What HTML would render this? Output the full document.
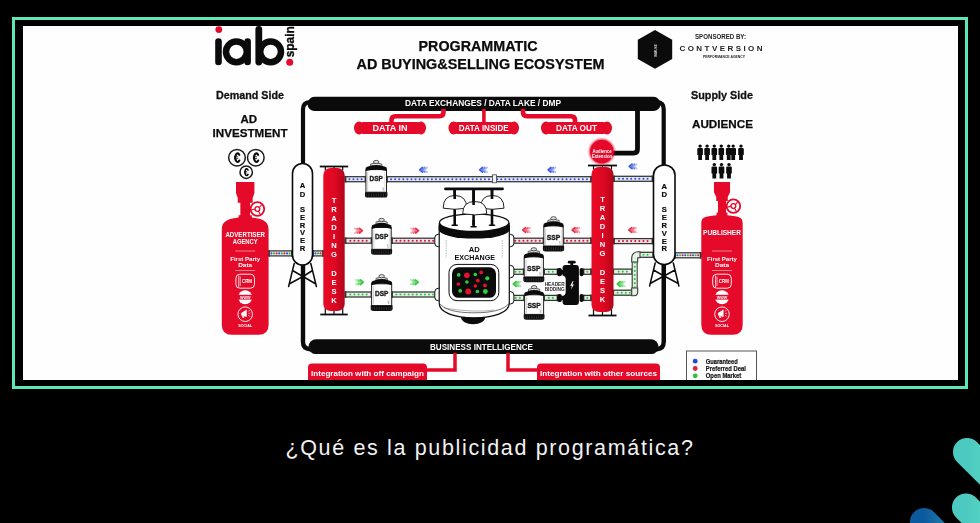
<!DOCTYPE html>
<html><head><meta charset="utf-8">
<style>
html,body{margin:0;padding:0;background:#000;width:980px;height:523px;overflow:hidden;}
body{position:relative;font-family:"Liberation Sans",sans-serif;}
#frame{position:absolute;left:12px;top:17px;width:950px;height:366px;border:3px solid #5de6b6;}
#white{position:absolute;left:23px;top:26px;width:935px;height:354px;background:#fefefe;}
svg#d{position:absolute;left:0;top:0;filter:blur(0.35px);}
#cap{position:absolute;left:0;width:980px;top:435.5px;text-align:center;color:#f2f2f2;font-size:21.5px;line-height:24px;letter-spacing:1.65px;}
svg#logo{position:absolute;left:0;top:0;}
</style></head>
<body>
<div id="frame"></div>
<div id="white"></div>
<svg id="d" width="980" height="523" viewBox="0 0 980 523" font-family="Liberation Sans" font-weight="bold">
<defs><clipPath id="wc"><rect x="23" y="26" width="935" height="354"/></clipPath></defs>
<g clip-path="url(#wc)">
<circle cx="218.8" cy="29.6" r="3.4" fill="#e5092a"/>
<line x1="218.5" y1="41.5" x2="218.5" y2="62" stroke="#0b0b0b" stroke-width="6.6" stroke-linecap="round"/>
<circle cx="236.4" cy="51.8" r="10.4" fill="none" stroke="#0b0b0b" stroke-width="6.5"/>
<line x1="247.6" y1="41.5" x2="247.6" y2="62" stroke="#0b0b0b" stroke-width="6.6" stroke-linecap="round"/>
<line x1="258.8" y1="29.5" x2="258.8" y2="62" stroke="#0b0b0b" stroke-width="6.8" stroke-linecap="round"/>
<circle cx="270.6" cy="51.8" r="10.4" fill="none" stroke="#0b0b0b" stroke-width="6.5"/>
<text transform="translate(294,57.3) rotate(-90)" font-size="13" fill="#0b0b0b" stroke="#0b0b0b" stroke-width="0.35" font-weight="bold" textLength="31" lengthAdjust="spacingAndGlyphs">spain</text>
<circle cx="289.7" cy="62.3" r="3.5" fill="#e5092a"/>
<text x="478" y="51" font-size="14.5" text-anchor="middle" fill="#0b0b0b" stroke="#0b0b0b" stroke-width="0.25" textLength="119" lengthAdjust="spacingAndGlyphs">PROGRAMMATIC</text>
<text x="480.5" y="68.7" font-size="14.5" text-anchor="middle" fill="#0b0b0b" stroke="#0b0b0b" stroke-width="0.25" textLength="248" lengthAdjust="spacingAndGlyphs">AD BUYING&amp;SELLING ECOSYSTEM</text>
<path d="M655,30 L672.2,39.7 L672.2,59.1 L655,68.8 L637.8,59.1 L637.8,39.7Z" fill="#0b0b0b"/>
<text transform="translate(657,57) rotate(-90)" font-size="4" fill="#ccc" textLength="13" lengthAdjust="spacingAndGlyphs">IMMUNE</text>
<text x="720.5" y="39" font-size="7" text-anchor="middle" fill="#222" textLength="51" lengthAdjust="spacingAndGlyphs">SPONSORED BY:</text>
<text x="721" y="51.3" font-size="8" text-anchor="middle" fill="#222" textLength="83" lengthAdjust="spacing">CONTVERSION</text>
<text x="724" y="58.3" font-size="3" text-anchor="middle" fill="#222" textLength="42" lengthAdjust="spacingAndGlyphs">PERFORMANCE AGENCY</text>
<text x="250" y="99" font-size="11" text-anchor="middle" fill="#111" stroke="#111" stroke-width="0.3" textLength="68" lengthAdjust="spacingAndGlyphs">Demand Side</text>
<text x="248.8" y="122.8" font-size="11.5" text-anchor="middle" fill="#0b0b0b" stroke="#0b0b0b" stroke-width="0.25">AD</text>
<text x="250" y="137.2" font-size="11.5" text-anchor="middle" fill="#0b0b0b" stroke="#0b0b0b" stroke-width="0.25" textLength="75" lengthAdjust="spacingAndGlyphs">INVESTMENT</text>
<text x="722" y="98.5" font-size="11" text-anchor="middle" fill="#111" stroke="#111" stroke-width="0.3" textLength="62" lengthAdjust="spacingAndGlyphs">Supply Side</text>
<text x="722.5" y="128.3" font-size="11.5" text-anchor="middle" fill="#0b0b0b" stroke="#0b0b0b" stroke-width="0.25" textLength="61" lengthAdjust="spacingAndGlyphs">AUDIENCE</text>
<defs><linearGradient id="dg" x1="0" y1="0" x2="1" y2="0"><stop offset="0" stop-color="#e80a25"/><stop offset="0.55" stop-color="#de0822"/><stop offset="1" stop-color="#b0061a"/></linearGradient></defs>
<rect x="307.5" y="96.8" width="353" height="14.2" rx="7.1" fill="#0b0b0b"/>
<path d="M303,166 L303,109 Q303,102.5 310,102 L313,102" fill="none" stroke="#0b0b0b" stroke-width="4.2"/>
<path d="M663.7,166 L663.7,109 Q663.7,102.5 657,102 L654,102" fill="none" stroke="#0b0b0b" stroke-width="4.2"/>
<path d="M637.5,110 L637.5,149 Q637.5,153.1 633.5,153.1 L612,153.1" fill="none" stroke="#0b0b0b" stroke-width="4.8"/>
<rect x="308.5" y="339.2" width="350" height="14.9" rx="7.45" fill="#0b0b0b"/>
<path d="M303,260 L303,342 Q303,348.8 310,349.2 L313,349.2" fill="none" stroke="#0b0b0b" stroke-width="4.4"/>
<path d="M663.7,260 L663.7,342 Q663.7,348.8 657,349.2 L654,349.2" fill="none" stroke="#0b0b0b" stroke-width="4.4"/>
<text x="483" y="105.7" font-size="8.6" text-anchor="middle" fill="#fff" textLength="156" lengthAdjust="spacingAndGlyphs">DATA EXCHANGES / DATA LAKE / DMP</text>
<text x="481.5" y="350" font-size="8.6" text-anchor="middle" fill="#fff" textLength="103" lengthAdjust="spacingAndGlyphs">BUSINESS INTELLIGENCE</text>
<path d="M391.5,124 L391.5,120 Q391.5,116.2 395.5,116.2 L439.5,116.2 Q443.5,116.2 443.5,112 L443.5,109" fill="none" stroke="#e5092a" stroke-width="4.6"/>
<path d="M483.9,124 L483.9,109" fill="none" stroke="#e5092a" stroke-width="3.6"/>
<path d="M523,109 L523,112 Q523,116.2 527,116.2 L571,116.2 Q575,116.2 575,120 L575,124" fill="none" stroke="#e5092a" stroke-width="4.6"/>
<rect x="357" y="122" width="66" height="12" rx="6.0" fill="#e5092a"/>
<ellipse cx="359" cy="128.0" rx="5" ry="6.5" fill="#e5092a"/>
<ellipse cx="421" cy="128.0" rx="5" ry="6.5" fill="#e5092a"/>
<text x="390.0" y="131.0" font-size="8.4" text-anchor="middle" fill="#fff" textLength="35" lengthAdjust="spacingAndGlyphs">DATA IN</text>
<rect x="451.5" y="122" width="64.5" height="12" rx="6.0" fill="#e5092a"/>
<ellipse cx="453.5" cy="128.0" rx="5" ry="6.5" fill="#e5092a"/>
<ellipse cx="514" cy="128.0" rx="5" ry="6.5" fill="#e5092a"/>
<text x="483.75" y="131.0" font-size="8.4" text-anchor="middle" fill="#fff" textLength="50" lengthAdjust="spacingAndGlyphs">DATA INSIDE</text>
<rect x="544" y="122" width="65" height="12" rx="6.0" fill="#e5092a"/>
<ellipse cx="546" cy="128.0" rx="5" ry="6.5" fill="#e5092a"/>
<ellipse cx="607" cy="128.0" rx="5" ry="6.5" fill="#e5092a"/>
<text x="576.5" y="131.0" font-size="8.4" text-anchor="middle" fill="#fff" textLength="41" lengthAdjust="spacingAndGlyphs">DATA OUT</text>
<path d="M455,353 L455,370 L427,370" fill="none" stroke="#e5092a" stroke-width="3.5"/>
<path d="M508,353 L508,370 L537,370" fill="none" stroke="#e5092a" stroke-width="3.5"/>
<rect x="308" y="363.5" width="119" height="20" rx="4" fill="#e5092a"/>
<rect x="537" y="363.5" width="123" height="20" rx="4" fill="#e5092a"/>
<text x="367.5" y="375.5" font-size="8" text-anchor="middle" fill="#fff" textLength="113" lengthAdjust="spacingAndGlyphs">Integration with off campaign</text>
<text x="598.5" y="375.5" font-size="8" text-anchor="middle" fill="#fff" textLength="117" lengthAdjust="spacingAndGlyphs">Integration with other sources</text>
<rect x="686.5" y="351" width="70" height="40" fill="none" stroke="#555" stroke-width="1"/>
<circle cx="695.2" cy="361.2" r="2.4" fill="#2746e0"/>
<text x="705.8" y="363.8" font-size="6.6" fill="#111" stroke="#111" stroke-width="0.2" textLength="32" lengthAdjust="spacingAndGlyphs">Guaranteed</text>
<circle cx="695.2" cy="368.5" r="2.4" fill="#e0233a"/>
<text x="705.8" y="371.1" font-size="6.6" fill="#111" stroke="#111" stroke-width="0.2" textLength="40" lengthAdjust="spacingAndGlyphs">Preferred Deal</text>
<circle cx="695.2" cy="375.8" r="2.4" fill="#27c23a"/>
<text x="705.8" y="378.40000000000003" font-size="6.6" fill="#111" stroke="#111" stroke-width="0.2" textLength="35.5" lengthAdjust="spacingAndGlyphs">Open Market</text>
<rect x="345" y="176.70" width="21.00" height="5" fill="#e4e9f7" stroke="#333" stroke-width="1.25"/>
<circle cx="349.38" cy="179.20" r="1.05" fill="#3350d8"/>
<circle cx="353.46" cy="179.20" r="1.05" fill="#3350d8"/>
<circle cx="357.54" cy="179.20" r="1.05" fill="#3350d8"/>
<circle cx="361.62" cy="179.20" r="1.05" fill="#3350d8"/>
<rect x="344.80" y="175.90" width="1.6" height="6.6" fill="#333"/>
<rect x="364.60" y="175.90" width="1.6" height="6.6" fill="#333"/>
<rect x="386.5" y="176.70" width="205.00" height="5" fill="#e4e9f7" stroke="#333" stroke-width="1.25"/>
<circle cx="391.08" cy="179.20" r="1.05" fill="#3350d8"/>
<circle cx="395.16" cy="179.20" r="1.05" fill="#3350d8"/>
<circle cx="399.24" cy="179.20" r="1.05" fill="#3350d8"/>
<circle cx="403.32" cy="179.20" r="1.05" fill="#3350d8"/>
<circle cx="407.40" cy="179.20" r="1.05" fill="#3350d8"/>
<circle cx="411.48" cy="179.20" r="1.05" fill="#3350d8"/>
<circle cx="415.56" cy="179.20" r="1.05" fill="#3350d8"/>
<circle cx="419.64" cy="179.20" r="1.05" fill="#3350d8"/>
<circle cx="423.72" cy="179.20" r="1.05" fill="#3350d8"/>
<circle cx="427.80" cy="179.20" r="1.05" fill="#3350d8"/>
<circle cx="431.88" cy="179.20" r="1.05" fill="#3350d8"/>
<circle cx="435.96" cy="179.20" r="1.05" fill="#3350d8"/>
<circle cx="440.04" cy="179.20" r="1.05" fill="#3350d8"/>
<circle cx="444.12" cy="179.20" r="1.05" fill="#3350d8"/>
<circle cx="448.20" cy="179.20" r="1.05" fill="#3350d8"/>
<circle cx="452.28" cy="179.20" r="1.05" fill="#3350d8"/>
<circle cx="456.36" cy="179.20" r="1.05" fill="#3350d8"/>
<circle cx="460.44" cy="179.20" r="1.05" fill="#3350d8"/>
<circle cx="464.52" cy="179.20" r="1.05" fill="#3350d8"/>
<circle cx="468.60" cy="179.20" r="1.05" fill="#3350d8"/>
<circle cx="472.68" cy="179.20" r="1.05" fill="#3350d8"/>
<circle cx="476.76" cy="179.20" r="1.05" fill="#3350d8"/>
<circle cx="480.84" cy="179.20" r="1.05" fill="#3350d8"/>
<circle cx="484.92" cy="179.20" r="1.05" fill="#3350d8"/>
<circle cx="489.00" cy="179.20" r="1.05" fill="#3350d8"/>
<circle cx="493.08" cy="179.20" r="1.05" fill="#3350d8"/>
<circle cx="497.16" cy="179.20" r="1.05" fill="#3350d8"/>
<circle cx="501.24" cy="179.20" r="1.05" fill="#3350d8"/>
<circle cx="505.32" cy="179.20" r="1.05" fill="#3350d8"/>
<circle cx="509.40" cy="179.20" r="1.05" fill="#3350d8"/>
<circle cx="513.48" cy="179.20" r="1.05" fill="#3350d8"/>
<circle cx="517.56" cy="179.20" r="1.05" fill="#3350d8"/>
<circle cx="521.64" cy="179.20" r="1.05" fill="#3350d8"/>
<circle cx="525.72" cy="179.20" r="1.05" fill="#3350d8"/>
<circle cx="529.80" cy="179.20" r="1.05" fill="#3350d8"/>
<circle cx="533.88" cy="179.20" r="1.05" fill="#3350d8"/>
<circle cx="537.96" cy="179.20" r="1.05" fill="#3350d8"/>
<circle cx="542.04" cy="179.20" r="1.05" fill="#3350d8"/>
<circle cx="546.12" cy="179.20" r="1.05" fill="#3350d8"/>
<circle cx="550.20" cy="179.20" r="1.05" fill="#3350d8"/>
<circle cx="554.28" cy="179.20" r="1.05" fill="#3350d8"/>
<circle cx="558.36" cy="179.20" r="1.05" fill="#3350d8"/>
<circle cx="562.44" cy="179.20" r="1.05" fill="#3350d8"/>
<circle cx="566.52" cy="179.20" r="1.05" fill="#3350d8"/>
<circle cx="570.60" cy="179.20" r="1.05" fill="#3350d8"/>
<circle cx="574.68" cy="179.20" r="1.05" fill="#3350d8"/>
<circle cx="578.76" cy="179.20" r="1.05" fill="#3350d8"/>
<circle cx="582.84" cy="179.20" r="1.05" fill="#3350d8"/>
<circle cx="586.92" cy="179.20" r="1.05" fill="#3350d8"/>
<rect x="386.30" y="175.90" width="1.6" height="6.6" fill="#333"/>
<rect x="590.10" y="175.90" width="1.6" height="6.6" fill="#333"/>
<rect x="492.5" y="174.8" width="4" height="8" fill="#eef2f6" stroke="#444" stroke-width="0.8"/>
<rect x="613.5" y="176.30" width="39.50" height="5" fill="#e4e9f7" stroke="#333" stroke-width="1.25"/>
<circle cx="618.97" cy="178.80" r="1.05" fill="#3350d8"/>
<circle cx="623.05" cy="178.80" r="1.05" fill="#3350d8"/>
<circle cx="627.13" cy="178.80" r="1.05" fill="#3350d8"/>
<circle cx="631.21" cy="178.80" r="1.05" fill="#3350d8"/>
<circle cx="635.29" cy="178.80" r="1.05" fill="#3350d8"/>
<circle cx="639.37" cy="178.80" r="1.05" fill="#3350d8"/>
<circle cx="643.45" cy="178.80" r="1.05" fill="#3350d8"/>
<circle cx="647.53" cy="178.80" r="1.05" fill="#3350d8"/>
<rect x="613.30" y="175.50" width="1.6" height="6.6" fill="#333"/>
<rect x="651.60" y="175.50" width="1.6" height="6.6" fill="#333"/>
<rect x="345" y="238.20" width="27.00" height="5" fill="#f6e1e6" stroke="#333" stroke-width="1.25"/>
<circle cx="350.34" cy="240.70" r="1.05" fill="#c81e3c"/>
<circle cx="354.42" cy="240.70" r="1.05" fill="#c81e3c"/>
<circle cx="358.50" cy="240.70" r="1.05" fill="#c81e3c"/>
<circle cx="362.58" cy="240.70" r="1.05" fill="#c81e3c"/>
<circle cx="366.66" cy="240.70" r="1.05" fill="#c81e3c"/>
<rect x="344.80" y="237.40" width="1.6" height="6.6" fill="#333"/>
<rect x="370.60" y="237.40" width="1.6" height="6.6" fill="#333"/>
<rect x="391.5" y="238.20" width="46.50" height="5" fill="#f6e1e6" stroke="#333" stroke-width="1.25"/>
<circle cx="396.39" cy="240.70" r="1.05" fill="#c81e3c"/>
<circle cx="400.47" cy="240.70" r="1.05" fill="#c81e3c"/>
<circle cx="404.55" cy="240.70" r="1.05" fill="#c81e3c"/>
<circle cx="408.63" cy="240.70" r="1.05" fill="#c81e3c"/>
<circle cx="412.71" cy="240.70" r="1.05" fill="#c81e3c"/>
<circle cx="416.79" cy="240.70" r="1.05" fill="#c81e3c"/>
<circle cx="420.87" cy="240.70" r="1.05" fill="#c81e3c"/>
<circle cx="424.95" cy="240.70" r="1.05" fill="#c81e3c"/>
<circle cx="429.03" cy="240.70" r="1.05" fill="#c81e3c"/>
<circle cx="433.11" cy="240.70" r="1.05" fill="#c81e3c"/>
<rect x="391.30" y="237.40" width="1.6" height="6.6" fill="#333"/>
<rect x="436.60" y="237.40" width="1.6" height="6.6" fill="#333"/>
<rect x="511" y="238.20" width="33.00" height="5" fill="#f6e1e6" stroke="#333" stroke-width="1.25"/>
<circle cx="515.26" cy="240.70" r="1.05" fill="#c81e3c"/>
<circle cx="519.34" cy="240.70" r="1.05" fill="#c81e3c"/>
<circle cx="523.42" cy="240.70" r="1.05" fill="#c81e3c"/>
<circle cx="527.50" cy="240.70" r="1.05" fill="#c81e3c"/>
<circle cx="531.58" cy="240.70" r="1.05" fill="#c81e3c"/>
<circle cx="535.66" cy="240.70" r="1.05" fill="#c81e3c"/>
<circle cx="539.74" cy="240.70" r="1.05" fill="#c81e3c"/>
<rect x="510.80" y="237.40" width="1.6" height="6.6" fill="#333"/>
<rect x="542.60" y="237.40" width="1.6" height="6.6" fill="#333"/>
<rect x="563" y="238.20" width="28.50" height="5" fill="#f6e1e6" stroke="#333" stroke-width="1.25"/>
<circle cx="567.05" cy="240.70" r="1.05" fill="#c81e3c"/>
<circle cx="571.13" cy="240.70" r="1.05" fill="#c81e3c"/>
<circle cx="575.21" cy="240.70" r="1.05" fill="#c81e3c"/>
<circle cx="579.29" cy="240.70" r="1.05" fill="#c81e3c"/>
<circle cx="583.37" cy="240.70" r="1.05" fill="#c81e3c"/>
<circle cx="587.45" cy="240.70" r="1.05" fill="#c81e3c"/>
<rect x="562.80" y="237.40" width="1.6" height="6.6" fill="#333"/>
<rect x="590.10" y="237.40" width="1.6" height="6.6" fill="#333"/>
<rect x="613.5" y="238.60" width="39.50" height="5" fill="#f6e1e6" stroke="#333" stroke-width="1.25"/>
<circle cx="618.97" cy="241.10" r="1.05" fill="#c81e3c"/>
<circle cx="623.05" cy="241.10" r="1.05" fill="#c81e3c"/>
<circle cx="627.13" cy="241.10" r="1.05" fill="#c81e3c"/>
<circle cx="631.21" cy="241.10" r="1.05" fill="#c81e3c"/>
<circle cx="635.29" cy="241.10" r="1.05" fill="#c81e3c"/>
<circle cx="639.37" cy="241.10" r="1.05" fill="#c81e3c"/>
<circle cx="643.45" cy="241.10" r="1.05" fill="#c81e3c"/>
<circle cx="647.53" cy="241.10" r="1.05" fill="#c81e3c"/>
<rect x="613.30" y="237.80" width="1.6" height="6.6" fill="#333"/>
<rect x="651.60" y="237.80" width="1.6" height="6.6" fill="#333"/>
<rect x="345" y="292.00" width="27.00" height="5" fill="#e3f3e3" stroke="#333" stroke-width="1.25"/>
<circle cx="350.34" cy="294.50" r="1.05" fill="#3cc24a"/>
<circle cx="354.42" cy="294.50" r="1.05" fill="#3cc24a"/>
<circle cx="358.50" cy="294.50" r="1.05" fill="#3cc24a"/>
<circle cx="362.58" cy="294.50" r="1.05" fill="#3cc24a"/>
<circle cx="366.66" cy="294.50" r="1.05" fill="#3cc24a"/>
<rect x="344.80" y="291.20" width="1.6" height="6.6" fill="#333"/>
<rect x="370.60" y="291.20" width="1.6" height="6.6" fill="#333"/>
<rect x="391.5" y="292.00" width="46.50" height="5" fill="#e3f3e3" stroke="#333" stroke-width="1.25"/>
<circle cx="396.39" cy="294.50" r="1.05" fill="#3cc24a"/>
<circle cx="400.47" cy="294.50" r="1.05" fill="#3cc24a"/>
<circle cx="404.55" cy="294.50" r="1.05" fill="#3cc24a"/>
<circle cx="408.63" cy="294.50" r="1.05" fill="#3cc24a"/>
<circle cx="412.71" cy="294.50" r="1.05" fill="#3cc24a"/>
<circle cx="416.79" cy="294.50" r="1.05" fill="#3cc24a"/>
<circle cx="420.87" cy="294.50" r="1.05" fill="#3cc24a"/>
<circle cx="424.95" cy="294.50" r="1.05" fill="#3cc24a"/>
<circle cx="429.03" cy="294.50" r="1.05" fill="#3cc24a"/>
<circle cx="433.11" cy="294.50" r="1.05" fill="#3cc24a"/>
<rect x="391.30" y="291.20" width="1.6" height="6.6" fill="#333"/>
<rect x="436.60" y="291.20" width="1.6" height="6.6" fill="#333"/>
<rect x="511" y="269.30" width="13.20" height="5" fill="#e3f3e3" stroke="#333" stroke-width="1.25"/>
<circle cx="515.56" cy="271.80" r="1.05" fill="#3cc24a"/>
<circle cx="519.64" cy="271.80" r="1.05" fill="#3cc24a"/>
<rect x="510.80" y="268.50" width="1.6" height="6.6" fill="#333"/>
<rect x="522.80" y="268.50" width="1.6" height="6.6" fill="#333"/>
<rect x="543.6" y="269.30" width="14.40" height="5" fill="#e3f3e3" stroke="#333" stroke-width="1.25"/>
<circle cx="548.76" cy="271.80" r="1.05" fill="#3cc24a"/>
<circle cx="552.84" cy="271.80" r="1.05" fill="#3cc24a"/>
<rect x="543.40" y="268.50" width="1.6" height="6.6" fill="#333"/>
<rect x="556.60" y="268.50" width="1.6" height="6.6" fill="#333"/>
<rect x="583" y="269.30" width="8.50" height="5" fill="#e3f3e3" stroke="#333" stroke-width="1.25"/>
<circle cx="587.25" cy="271.80" r="1.05" fill="#3cc24a"/>
<rect x="582.80" y="268.50" width="1.6" height="6.6" fill="#333"/>
<rect x="590.10" y="268.50" width="1.6" height="6.6" fill="#333"/>
<rect x="511" y="295.40" width="13.60" height="5" fill="#e3f3e3" stroke="#333" stroke-width="1.25"/>
<circle cx="515.76" cy="297.90" r="1.05" fill="#3cc24a"/>
<circle cx="519.84" cy="297.90" r="1.05" fill="#3cc24a"/>
<rect x="510.80" y="294.60" width="1.6" height="6.6" fill="#333"/>
<rect x="523.20" y="294.60" width="1.6" height="6.6" fill="#333"/>
<rect x="543.6" y="295.40" width="14.40" height="5" fill="#e3f3e3" stroke="#333" stroke-width="1.25"/>
<circle cx="548.76" cy="297.90" r="1.05" fill="#3cc24a"/>
<circle cx="552.84" cy="297.90" r="1.05" fill="#3cc24a"/>
<rect x="543.40" y="294.60" width="1.6" height="6.6" fill="#333"/>
<rect x="556.60" y="294.60" width="1.6" height="6.6" fill="#333"/>
<rect x="583" y="295.40" width="8.50" height="5" fill="#e3f3e3" stroke="#333" stroke-width="1.25"/>
<circle cx="587.25" cy="297.90" r="1.05" fill="#3cc24a"/>
<rect x="582.80" y="294.60" width="1.6" height="6.6" fill="#333"/>
<rect x="590.10" y="294.60" width="1.6" height="6.6" fill="#333"/>
<rect x="613.5" y="269.10" width="18.50" height="5" fill="#e3f3e3" stroke="#333" stroke-width="1.25"/>
<circle cx="618.67" cy="271.60" r="1.05" fill="#3cc24a"/>
<circle cx="622.75" cy="271.60" r="1.05" fill="#3cc24a"/>
<circle cx="626.83" cy="271.60" r="1.05" fill="#3cc24a"/>
<rect x="613.5" y="290.20" width="20.50" height="5" fill="#e3f3e3" stroke="#333" stroke-width="1.25"/>
<circle cx="617.63" cy="292.70" r="1.05" fill="#3cc24a"/>
<circle cx="621.71" cy="292.70" r="1.05" fill="#3cc24a"/>
<circle cx="625.79" cy="292.70" r="1.05" fill="#3cc24a"/>
<circle cx="629.87" cy="292.70" r="1.05" fill="#3cc24a"/>
<rect x="632.20" y="258" width="5" height="34.00" fill="#e3f3e3" stroke="#3d3d3d" stroke-width="1.1"/>
<circle cx="634.70" cy="262.76" r="1.05" fill="#3cc24a"/>
<circle cx="634.70" cy="266.84" r="1.05" fill="#3cc24a"/>
<circle cx="634.70" cy="270.92" r="1.05" fill="#3cc24a"/>
<circle cx="634.70" cy="275.00" r="1.05" fill="#3cc24a"/>
<circle cx="634.70" cy="279.08" r="1.05" fill="#3cc24a"/>
<circle cx="634.70" cy="283.16" r="1.05" fill="#3cc24a"/>
<circle cx="634.70" cy="287.24" r="1.05" fill="#3cc24a"/>
<rect x="638" y="252.30" width="15.00" height="5" fill="#e3f3e3" stroke="#333" stroke-width="1.25"/>
<circle cx="643.46" cy="254.80" r="1.05" fill="#3cc24a"/>
<circle cx="647.54" cy="254.80" r="1.05" fill="#3cc24a"/>
<path d="M631.7,262 L631.7,258.5 Q631.7,251.8 638.5,251.8 L640,251.8 L640,257.8 L637.7,257.8 L637.7,262Z" fill="#e3f3e3" stroke="#3d3d3d" stroke-width="1.1"/>
<path d="M631.7,288 L631.7,295.7 L634,295.7 Q637.7,295.7 637.7,292 L637.7,288Z" fill="#e3f3e3" stroke="#3d3d3d" stroke-width="1.1"/>
<rect x="268.5" y="250.90" width="24.00" height="5" fill="#eef0f2" stroke="#333" stroke-width="1.25"/>
<circle cx="271.40" cy="253.40" r="1.05" fill="#3350d8"/>
<circle cx="274.00" cy="253.40" r="1.05" fill="#2fb83c"/>
<circle cx="276.60" cy="253.40" r="1.05" fill="#d4213a"/>
<circle cx="279.20" cy="253.40" r="1.05" fill="#3350d8"/>
<circle cx="281.80" cy="253.40" r="1.05" fill="#2fb83c"/>
<circle cx="284.40" cy="253.40" r="1.05" fill="#d4213a"/>
<circle cx="287.00" cy="253.40" r="1.05" fill="#3350d8"/>
<circle cx="289.60" cy="253.40" r="1.05" fill="#2fb83c"/>
<rect x="268.30" y="250.10" width="1.6" height="6.6" fill="#333"/>
<rect x="291.10" y="250.10" width="1.6" height="6.6" fill="#333"/>
<rect x="312.5" y="250.90" width="11.00" height="5" fill="#eef0f2" stroke="#333" stroke-width="1.25"/>
<circle cx="315.40" cy="253.40" r="1.05" fill="#3350d8"/>
<circle cx="318.00" cy="253.40" r="1.05" fill="#2fb83c"/>
<circle cx="320.60" cy="253.40" r="1.05" fill="#d4213a"/>
<rect x="312.30" y="250.10" width="1.6" height="6.6" fill="#333"/>
<rect x="322.10" y="250.10" width="1.6" height="6.6" fill="#333"/>
<rect x="674.5" y="252.80" width="26.70" height="5" fill="#eef0f2" stroke="#333" stroke-width="1.25"/>
<circle cx="677.45" cy="255.30" r="1.05" fill="#3350d8"/>
<circle cx="680.05" cy="255.30" r="1.05" fill="#2fb83c"/>
<circle cx="682.65" cy="255.30" r="1.05" fill="#d4213a"/>
<circle cx="685.25" cy="255.30" r="1.05" fill="#3350d8"/>
<circle cx="687.85" cy="255.30" r="1.05" fill="#2fb83c"/>
<circle cx="690.45" cy="255.30" r="1.05" fill="#d4213a"/>
<circle cx="693.05" cy="255.30" r="1.05" fill="#3350d8"/>
<circle cx="695.65" cy="255.30" r="1.05" fill="#2fb83c"/>
<circle cx="698.25" cy="255.30" r="1.05" fill="#d4213a"/>
<rect x="674.30" y="252.00" width="1.6" height="6.6" fill="#333"/>
<rect x="699.80" y="252.00" width="1.6" height="6.6" fill="#333"/>
<path d="M422.50,167.50 L419.70,169.80 L422.50,172.10" fill="none" stroke="#3b5be0" stroke-width="1.7" stroke-linecap="round" stroke-linejoin="round" opacity="1.0"/>
<path d="M424.80,167.50 L422.00,169.80 L424.80,172.10" fill="none" stroke="#3b5be0" stroke-width="1.7" stroke-linecap="round" stroke-linejoin="round" opacity="0.7"/>
<path d="M427.10,167.50 L424.30,169.80 L427.10,172.10" fill="none" stroke="#3b5be0" stroke-width="1.7" stroke-linecap="round" stroke-linejoin="round" opacity="0.4"/>
<path d="M482.50,167.50 L479.70,169.80 L482.50,172.10" fill="none" stroke="#3b5be0" stroke-width="1.7" stroke-linecap="round" stroke-linejoin="round" opacity="1.0"/>
<path d="M484.80,167.50 L482.00,169.80 L484.80,172.10" fill="none" stroke="#3b5be0" stroke-width="1.7" stroke-linecap="round" stroke-linejoin="round" opacity="0.7"/>
<path d="M487.10,167.50 L484.30,169.80 L487.10,172.10" fill="none" stroke="#3b5be0" stroke-width="1.7" stroke-linecap="round" stroke-linejoin="round" opacity="0.4"/>
<path d="M550.90,167.50 L548.10,169.80 L550.90,172.10" fill="none" stroke="#3b5be0" stroke-width="1.7" stroke-linecap="round" stroke-linejoin="round" opacity="1.0"/>
<path d="M553.20,167.50 L550.40,169.80 L553.20,172.10" fill="none" stroke="#3b5be0" stroke-width="1.7" stroke-linecap="round" stroke-linejoin="round" opacity="0.7"/>
<path d="M555.50,167.50 L552.70,169.80 L555.50,172.10" fill="none" stroke="#3b5be0" stroke-width="1.7" stroke-linecap="round" stroke-linejoin="round" opacity="0.4"/>
<path d="M632.00,164.10 L629.20,166.40 L632.00,168.70" fill="none" stroke="#3b5be0" stroke-width="1.7" stroke-linecap="round" stroke-linejoin="round" opacity="1.0"/>
<path d="M634.30,164.10 L631.50,166.40 L634.30,168.70" fill="none" stroke="#3b5be0" stroke-width="1.7" stroke-linecap="round" stroke-linejoin="round" opacity="0.7"/>
<path d="M636.60,164.10 L633.80,166.40 L636.60,168.70" fill="none" stroke="#3b5be0" stroke-width="1.7" stroke-linecap="round" stroke-linejoin="round" opacity="0.4"/>
<path d="M354.90,228.40 L357.70,230.70 L354.90,233.00" fill="none" stroke="#e8304a" stroke-width="1.7" stroke-linecap="round" stroke-linejoin="round" opacity="0.4"/>
<path d="M357.20,228.40 L360.00,230.70 L357.20,233.00" fill="none" stroke="#e8304a" stroke-width="1.7" stroke-linecap="round" stroke-linejoin="round" opacity="0.7"/>
<path d="M359.50,228.40 L362.30,230.70 L359.50,233.00" fill="none" stroke="#e8304a" stroke-width="1.7" stroke-linecap="round" stroke-linejoin="round" opacity="1.0"/>
<path d="M411.10,228.40 L413.90,230.70 L411.10,233.00" fill="none" stroke="#e8304a" stroke-width="1.7" stroke-linecap="round" stroke-linejoin="round" opacity="0.4"/>
<path d="M413.40,228.40 L416.20,230.70 L413.40,233.00" fill="none" stroke="#e8304a" stroke-width="1.7" stroke-linecap="round" stroke-linejoin="round" opacity="0.7"/>
<path d="M415.70,228.40 L418.50,230.70 L415.70,233.00" fill="none" stroke="#e8304a" stroke-width="1.7" stroke-linecap="round" stroke-linejoin="round" opacity="1.0"/>
<path d="M525.60,227.70 L522.80,230.00 L525.60,232.30" fill="none" stroke="#e8304a" stroke-width="1.7" stroke-linecap="round" stroke-linejoin="round" opacity="1.0"/>
<path d="M527.90,227.70 L525.10,230.00 L527.90,232.30" fill="none" stroke="#e8304a" stroke-width="1.7" stroke-linecap="round" stroke-linejoin="round" opacity="0.7"/>
<path d="M530.20,227.70 L527.40,230.00 L530.20,232.30" fill="none" stroke="#e8304a" stroke-width="1.7" stroke-linecap="round" stroke-linejoin="round" opacity="0.4"/>
<path d="M575.00,227.70 L572.20,230.00 L575.00,232.30" fill="none" stroke="#e8304a" stroke-width="1.7" stroke-linecap="round" stroke-linejoin="round" opacity="1.0"/>
<path d="M577.30,227.70 L574.50,230.00 L577.30,232.30" fill="none" stroke="#e8304a" stroke-width="1.7" stroke-linecap="round" stroke-linejoin="round" opacity="0.7"/>
<path d="M579.60,227.70 L576.80,230.00 L579.60,232.30" fill="none" stroke="#e8304a" stroke-width="1.7" stroke-linecap="round" stroke-linejoin="round" opacity="0.4"/>
<path d="M631.70,227.70 L628.90,230.00 L631.70,232.30" fill="none" stroke="#e8304a" stroke-width="1.7" stroke-linecap="round" stroke-linejoin="round" opacity="1.0"/>
<path d="M634.00,227.70 L631.20,230.00 L634.00,232.30" fill="none" stroke="#e8304a" stroke-width="1.7" stroke-linecap="round" stroke-linejoin="round" opacity="0.7"/>
<path d="M636.30,227.70 L633.50,230.00 L636.30,232.30" fill="none" stroke="#e8304a" stroke-width="1.7" stroke-linecap="round" stroke-linejoin="round" opacity="0.4"/>
<path d="M355.90,279.90 L358.70,282.20 L355.90,284.50" fill="none" stroke="#35c83f" stroke-width="1.7" stroke-linecap="round" stroke-linejoin="round" opacity="0.4"/>
<path d="M358.20,279.90 L361.00,282.20 L358.20,284.50" fill="none" stroke="#35c83f" stroke-width="1.7" stroke-linecap="round" stroke-linejoin="round" opacity="0.7"/>
<path d="M360.50,279.90 L363.30,282.20 L360.50,284.50" fill="none" stroke="#35c83f" stroke-width="1.7" stroke-linecap="round" stroke-linejoin="round" opacity="1.0"/>
<path d="M410.80,279.90 L413.60,282.20 L410.80,284.50" fill="none" stroke="#35c83f" stroke-width="1.7" stroke-linecap="round" stroke-linejoin="round" opacity="0.4"/>
<path d="M413.10,279.90 L415.90,282.20 L413.10,284.50" fill="none" stroke="#35c83f" stroke-width="1.7" stroke-linecap="round" stroke-linejoin="round" opacity="0.7"/>
<path d="M415.40,279.90 L418.20,282.20 L415.40,284.50" fill="none" stroke="#35c83f" stroke-width="1.7" stroke-linecap="round" stroke-linejoin="round" opacity="1.0"/>
<path d="M516.20,281.70 L513.40,284.00 L516.20,286.30" fill="none" stroke="#35c83f" stroke-width="1.7" stroke-linecap="round" stroke-linejoin="round" opacity="1.0"/>
<path d="M518.50,281.70 L515.70,284.00 L518.50,286.30" fill="none" stroke="#35c83f" stroke-width="1.7" stroke-linecap="round" stroke-linejoin="round" opacity="0.7"/>
<path d="M520.80,281.70 L518.00,284.00 L520.80,286.30" fill="none" stroke="#35c83f" stroke-width="1.7" stroke-linecap="round" stroke-linejoin="round" opacity="0.4"/>
<path d="M620.20,281.70 L617.40,284.00 L620.20,286.30" fill="none" stroke="#35c83f" stroke-width="1.7" stroke-linecap="round" stroke-linejoin="round" opacity="1.0"/>
<path d="M622.50,281.70 L619.70,284.00 L622.50,286.30" fill="none" stroke="#35c83f" stroke-width="1.7" stroke-linecap="round" stroke-linejoin="round" opacity="0.7"/>
<path d="M624.80,281.70 L622.00,284.00 L624.80,286.30" fill="none" stroke="#35c83f" stroke-width="1.7" stroke-linecap="round" stroke-linejoin="round" opacity="0.4"/>
<rect x="301.1" y="263" width="3.8" height="79" fill="#0b0b0b"/>
<path d="M294.2,263.5 L288.6,286.5 M310.8,263.5 L316.4,286.5 M292.50,270.5 L303,276.5 L289.21,284 M312.50,270.5 L303,276.5 L315.79,284" stroke="#0b0b0b" stroke-width="1.5" fill="none" stroke-linecap="round"/>
<rect x="292.5" y="163.5" width="20.0" height="101.5" rx="10.0" ry="10" fill="#fff" stroke="#0b0b0b" stroke-width="1.6"/>
<text x="302.5" y="188.40" font-size="7.6" text-anchor="middle" fill="#0b0b0b" stroke="#0b0b0b" stroke-width="0.2">A</text>
<text x="302.5" y="196.60" font-size="7.6" text-anchor="middle" fill="#0b0b0b" stroke="#0b0b0b" stroke-width="0.2">D</text>
<text x="302.5" y="212.00" font-size="7.6" text-anchor="middle" fill="#0b0b0b" stroke="#0b0b0b" stroke-width="0.2">S</text>
<text x="302.5" y="219.80" font-size="7.6" text-anchor="middle" fill="#0b0b0b" stroke="#0b0b0b" stroke-width="0.2">E</text>
<text x="302.5" y="227.60" font-size="7.6" text-anchor="middle" fill="#0b0b0b" stroke="#0b0b0b" stroke-width="0.2">R</text>
<text x="302.5" y="235.40" font-size="7.6" text-anchor="middle" fill="#0b0b0b" stroke="#0b0b0b" stroke-width="0.2">V</text>
<text x="302.5" y="243.20" font-size="7.6" text-anchor="middle" fill="#0b0b0b" stroke="#0b0b0b" stroke-width="0.2">E</text>
<text x="302.5" y="251.00" font-size="7.6" text-anchor="middle" fill="#0b0b0b" stroke="#0b0b0b" stroke-width="0.2">R</text>
<rect x="662.1" y="262.5" width="3.8" height="79.5" fill="#0b0b0b"/>
<path d="M655.2,263.0 L649.6,286.0 M673.3,263.0 L678.9,286.0 M653.50,270.0 L664,276.0 L650.21,283.5 M675.00,270.0 L664,276.0 L678.29,283.5" stroke="#0b0b0b" stroke-width="1.5" fill="none" stroke-linecap="round"/>
<rect x="653.5" y="165" width="21.5" height="99.5" rx="10.75" ry="10" fill="#fff" stroke="#0b0b0b" stroke-width="1.6"/>
<text x="664.25" y="188.85" font-size="7.6" text-anchor="middle" fill="#0b0b0b" stroke="#0b0b0b" stroke-width="0.2">A</text>
<text x="664.25" y="197.05" font-size="7.6" text-anchor="middle" fill="#0b0b0b" stroke="#0b0b0b" stroke-width="0.2">D</text>
<text x="664.25" y="212.45" font-size="7.6" text-anchor="middle" fill="#0b0b0b" stroke="#0b0b0b" stroke-width="0.2">S</text>
<text x="664.25" y="220.25" font-size="7.6" text-anchor="middle" fill="#0b0b0b" stroke="#0b0b0b" stroke-width="0.2">E</text>
<text x="664.25" y="228.05" font-size="7.6" text-anchor="middle" fill="#0b0b0b" stroke="#0b0b0b" stroke-width="0.2">R</text>
<text x="664.25" y="235.85" font-size="7.6" text-anchor="middle" fill="#0b0b0b" stroke="#0b0b0b" stroke-width="0.2">V</text>
<text x="664.25" y="243.65" font-size="7.6" text-anchor="middle" fill="#0b0b0b" stroke="#0b0b0b" stroke-width="0.2">E</text>
<text x="664.25" y="251.45" font-size="7.6" text-anchor="middle" fill="#0b0b0b" stroke="#0b0b0b" stroke-width="0.2">R</text>
<line x1="319.8" y1="166.5" x2="348.2" y2="166.5" stroke="#0b0b0b" stroke-width="1.8"/>
<line x1="320.3" y1="314.5" x2="347.7" y2="314.5" stroke="#0b0b0b" stroke-width="1.8"/>
<line x1="325.3" y1="166.5" x2="325.3" y2="170.5" stroke="#0b0b0b" stroke-width="1.2"/>
<line x1="325.3" y1="307.5" x2="325.3" y2="314.5" stroke="#0b0b0b" stroke-width="1.2"/>
<line x1="334.0" y1="166.5" x2="334.0" y2="170.5" stroke="#0b0b0b" stroke-width="1.2"/>
<line x1="334.0" y1="307.5" x2="334.0" y2="314.5" stroke="#0b0b0b" stroke-width="1.2"/>
<line x1="342.7" y1="166.5" x2="342.7" y2="170.5" stroke="#0b0b0b" stroke-width="1.2"/>
<line x1="342.7" y1="307.5" x2="342.7" y2="314.5" stroke="#0b0b0b" stroke-width="1.2"/>
<rect x="323.3" y="168.0" width="21.399999999999977" height="143.0" rx="7.5" ry="7" fill="url(#dg)"/>
<text x="334.0" y="203.0" font-size="7.6" text-anchor="middle" fill="#fff">T</text>
<text x="334.0" y="212.0" font-size="7.6" text-anchor="middle" fill="#fff">R</text>
<text x="334.0" y="221.0" font-size="7.6" text-anchor="middle" fill="#fff">A</text>
<text x="334.0" y="230.0" font-size="7.6" text-anchor="middle" fill="#fff">D</text>
<text x="334.0" y="239.0" font-size="7.6" text-anchor="middle" fill="#fff">I</text>
<text x="334.0" y="248.0" font-size="7.6" text-anchor="middle" fill="#fff">N</text>
<text x="334.0" y="257.0" font-size="7.6" text-anchor="middle" fill="#fff">G</text>
<text x="334.0" y="276.0" font-size="7.6" text-anchor="middle" fill="#fff">D</text>
<text x="334.0" y="285.0" font-size="7.6" text-anchor="middle" fill="#fff">E</text>
<text x="334.0" y="294.0" font-size="7.6" text-anchor="middle" fill="#fff">S</text>
<text x="334.0" y="302.8" font-size="7.6" text-anchor="middle" fill="#fff">K</text>
<line x1="588.0" y1="165.5" x2="617.0" y2="165.5" stroke="#0b0b0b" stroke-width="1.8"/>
<line x1="588.5" y1="315.5" x2="616.5" y2="315.5" stroke="#0b0b0b" stroke-width="1.8"/>
<line x1="593.5" y1="165.5" x2="593.5" y2="169.5" stroke="#0b0b0b" stroke-width="1.2"/>
<line x1="593.5" y1="308.5" x2="593.5" y2="315.5" stroke="#0b0b0b" stroke-width="1.2"/>
<line x1="602.5" y1="165.5" x2="602.5" y2="169.5" stroke="#0b0b0b" stroke-width="1.2"/>
<line x1="602.5" y1="308.5" x2="602.5" y2="315.5" stroke="#0b0b0b" stroke-width="1.2"/>
<line x1="611.5" y1="165.5" x2="611.5" y2="169.5" stroke="#0b0b0b" stroke-width="1.2"/>
<line x1="611.5" y1="308.5" x2="611.5" y2="315.5" stroke="#0b0b0b" stroke-width="1.2"/>
<rect x="591.5" y="167.0" width="22.0" height="145.0" rx="7.5" ry="7" fill="url(#dg)"/>
<text x="602.5" y="202.0" font-size="7.6" text-anchor="middle" fill="#fff">T</text>
<text x="602.5" y="211.0" font-size="7.6" text-anchor="middle" fill="#fff">R</text>
<text x="602.5" y="220.0" font-size="7.6" text-anchor="middle" fill="#fff">A</text>
<text x="602.5" y="229.0" font-size="7.6" text-anchor="middle" fill="#fff">D</text>
<text x="602.5" y="238.0" font-size="7.6" text-anchor="middle" fill="#fff">I</text>
<text x="602.5" y="247.0" font-size="7.6" text-anchor="middle" fill="#fff">N</text>
<text x="602.5" y="256.0" font-size="7.6" text-anchor="middle" fill="#fff">G</text>
<text x="602.5" y="275.0" font-size="7.6" text-anchor="middle" fill="#fff">D</text>
<text x="602.5" y="284.0" font-size="7.6" text-anchor="middle" fill="#fff">E</text>
<text x="602.5" y="293.0" font-size="7.6" text-anchor="middle" fill="#fff">S</text>
<text x="602.5" y="301.8" font-size="7.6" text-anchor="middle" fill="#fff">K</text>
<path d="M370.59999999999997,166.7 L370.59999999999997,164.1 Q376.2,161.7 381.8,164.1 L381.8,166.7 Q376.2,168.9 370.59999999999997,166.7Z" fill="#e9e9e9" stroke="#333" stroke-width="0.8"/>
<path d="M371.59999999999997,165.29999999999998 Q376.2,167.1 380.8,165.29999999999998" fill="none" stroke="#666" stroke-width="0.5"/>
<ellipse cx="376.2" cy="162.0" rx="2.8" ry="1.6" fill="#ddd" stroke="#333" stroke-width="0.8"/>
<rect x="365.9" y="169.6" width="20.6" height="22.599999999999994" fill="#fff" stroke="#222" stroke-width="1"/>
<line x1="367.7" y1="172.1" x2="367.7" y2="191.2" stroke="#c8c8c8" stroke-width="0.9"/>
<line x1="384.7" y1="172.1" x2="384.7" y2="191.2" stroke="#d8d8d8" stroke-width="0.7"/>
<path d="M365.7,171.1 L365.7,167.7 Q366.9,166.7 368.9,166.29999999999998 Q376.2,163.5 383.5,166.29999999999998 Q385.5,166.7 386.7,167.7 L386.7,171.1 Q376.2,167.7 365.7,171.1Z" fill="#0b0b0b"/>
<path d="M365.0,192.2 L387.4,192.2 L387.4,195.4 Q387.4,197.6 384.5,197.6 L367.9,197.6 Q365.0,197.6 365.0,195.4Z" fill="#0b0b0b"/>
<line x1="366.4" y1="193.39999999999998" x2="366.4" y2="196.79999999999998" stroke="#5a5a5a" stroke-width="0.45"/>
<line x1="368.8" y1="193.39999999999998" x2="368.8" y2="196.79999999999998" stroke="#5a5a5a" stroke-width="0.45"/>
<line x1="371.3" y1="193.39999999999998" x2="371.3" y2="196.79999999999998" stroke="#5a5a5a" stroke-width="0.45"/>
<line x1="373.8" y1="193.39999999999998" x2="373.8" y2="196.79999999999998" stroke="#5a5a5a" stroke-width="0.45"/>
<line x1="376.2" y1="193.39999999999998" x2="376.2" y2="196.79999999999998" stroke="#5a5a5a" stroke-width="0.45"/>
<line x1="378.6" y1="193.39999999999998" x2="378.6" y2="196.79999999999998" stroke="#5a5a5a" stroke-width="0.45"/>
<line x1="381.1" y1="193.39999999999998" x2="381.1" y2="196.79999999999998" stroke="#5a5a5a" stroke-width="0.45"/>
<line x1="383.5" y1="193.39999999999998" x2="383.5" y2="196.79999999999998" stroke="#5a5a5a" stroke-width="0.45"/>
<line x1="386.0" y1="193.39999999999998" x2="386.0" y2="196.79999999999998" stroke="#5a5a5a" stroke-width="0.45"/>
<line x1="383.0" y1="187.2" x2="383.3" y2="190.7" stroke="#777" stroke-width="0.6"/>
<text x="376.2" y="181.40" font-size="7.8" text-anchor="middle" fill="#1a1a1a" stroke="#1a1a1a" stroke-width="0.4" textLength="13.4" lengthAdjust="spacingAndGlyphs">DSP</text>
<path d="M376.0,224.6 L376.0,222 Q381.6,219.6 387.20000000000005,222 L387.20000000000005,224.6 Q381.6,226.8 376.0,224.6Z" fill="#e9e9e9" stroke="#333" stroke-width="0.8"/>
<path d="M377.0,223.2 Q381.6,225 386.20000000000005,223.2" fill="none" stroke="#666" stroke-width="0.5"/>
<ellipse cx="381.6" cy="219.9" rx="2.8" ry="1.6" fill="#ddd" stroke="#333" stroke-width="0.8"/>
<rect x="372" y="227.5" width="19.2" height="21.799999999999983" fill="#fff" stroke="#222" stroke-width="1"/>
<line x1="373.8" y1="230" x2="373.8" y2="248.29999999999998" stroke="#c8c8c8" stroke-width="0.9"/>
<line x1="389.4" y1="230" x2="389.4" y2="248.29999999999998" stroke="#d8d8d8" stroke-width="0.7"/>
<path d="M371.8,229 L371.8,225.6 Q373,224.6 375,224.2 Q381.6,221.4 388.2,224.2 Q390.2,224.6 391.4,225.6 L391.4,229 Q381.6,225.6 371.8,229Z" fill="#0b0b0b"/>
<path d="M371.1,249.29999999999998 L392.09999999999997,249.29999999999998 L392.09999999999997,252.5 Q392.09999999999997,254.7 389.2,254.7 L374,254.7 Q371.1,254.7 371.1,252.5Z" fill="#0b0b0b"/>
<line x1="372.5" y1="250.49999999999997" x2="372.5" y2="253.89999999999998" stroke="#5a5a5a" stroke-width="0.45"/>
<line x1="374.8" y1="250.49999999999997" x2="374.8" y2="253.89999999999998" stroke="#5a5a5a" stroke-width="0.45"/>
<line x1="377.1" y1="250.49999999999997" x2="377.1" y2="253.89999999999998" stroke="#5a5a5a" stroke-width="0.45"/>
<line x1="379.3" y1="250.49999999999997" x2="379.3" y2="253.89999999999998" stroke="#5a5a5a" stroke-width="0.45"/>
<line x1="381.6" y1="250.49999999999997" x2="381.6" y2="253.89999999999998" stroke="#5a5a5a" stroke-width="0.45"/>
<line x1="383.9" y1="250.49999999999997" x2="383.9" y2="253.89999999999998" stroke="#5a5a5a" stroke-width="0.45"/>
<line x1="386.1" y1="250.49999999999997" x2="386.1" y2="253.89999999999998" stroke="#5a5a5a" stroke-width="0.45"/>
<line x1="388.4" y1="250.49999999999997" x2="388.4" y2="253.89999999999998" stroke="#5a5a5a" stroke-width="0.45"/>
<line x1="390.7" y1="250.49999999999997" x2="390.7" y2="253.89999999999998" stroke="#5a5a5a" stroke-width="0.45"/>
<line x1="387.7" y1="244.29999999999998" x2="388.0" y2="247.79999999999998" stroke="#777" stroke-width="0.6"/>
<text x="381.6" y="238.90" font-size="7.8" text-anchor="middle" fill="#1a1a1a" stroke="#1a1a1a" stroke-width="0.4" textLength="13.4" lengthAdjust="spacingAndGlyphs">DSP</text>
<path d="M376.05,280.90000000000003 L376.05,278.3 Q381.65000000000003,275.90000000000003 387.25000000000006,278.3 L387.25000000000006,280.90000000000003 Q381.65000000000003,283.1 376.05,280.90000000000003Z" fill="#e9e9e9" stroke="#333" stroke-width="0.8"/>
<path d="M377.05,279.5 Q381.65000000000003,281.3 386.25000000000006,279.5" fill="none" stroke="#666" stroke-width="0.5"/>
<ellipse cx="381.65000000000003" cy="276.2" rx="2.8" ry="1.6" fill="#ddd" stroke="#333" stroke-width="0.8"/>
<rect x="371.6" y="283.8" width="20.1" height="21.80000000000001" fill="#fff" stroke="#222" stroke-width="1"/>
<line x1="373.40000000000003" y1="286.3" x2="373.40000000000003" y2="304.6" stroke="#c8c8c8" stroke-width="0.9"/>
<line x1="389.90000000000003" y1="286.3" x2="389.90000000000003" y2="304.6" stroke="#d8d8d8" stroke-width="0.7"/>
<path d="M371.40000000000003,285.3 L371.40000000000003,281.90000000000003 Q372.6,280.90000000000003 374.6,280.5 Q381.65000000000003,277.7 388.70000000000005,280.5 Q390.70000000000005,280.90000000000003 391.90000000000003,281.90000000000003 L391.90000000000003,285.3 Q381.65000000000003,281.90000000000003 371.40000000000003,285.3Z" fill="#0b0b0b"/>
<path d="M370.70000000000005,305.6 L392.6,305.6 L392.6,308.8 Q392.6,311.0 389.70000000000005,311.0 L373.6,311.0 Q370.70000000000005,311.0 370.70000000000005,308.8Z" fill="#0b0b0b"/>
<line x1="372.1" y1="306.8" x2="372.1" y2="310.2" stroke="#5a5a5a" stroke-width="0.45"/>
<line x1="374.5" y1="306.8" x2="374.5" y2="310.2" stroke="#5a5a5a" stroke-width="0.45"/>
<line x1="376.9" y1="306.8" x2="376.9" y2="310.2" stroke="#5a5a5a" stroke-width="0.45"/>
<line x1="379.3" y1="306.8" x2="379.3" y2="310.2" stroke="#5a5a5a" stroke-width="0.45"/>
<line x1="381.7" y1="306.8" x2="381.7" y2="310.2" stroke="#5a5a5a" stroke-width="0.45"/>
<line x1="384.0" y1="306.8" x2="384.0" y2="310.2" stroke="#5a5a5a" stroke-width="0.45"/>
<line x1="386.4" y1="306.8" x2="386.4" y2="310.2" stroke="#5a5a5a" stroke-width="0.45"/>
<line x1="388.8" y1="306.8" x2="388.8" y2="310.2" stroke="#5a5a5a" stroke-width="0.45"/>
<line x1="391.2" y1="306.8" x2="391.2" y2="310.2" stroke="#5a5a5a" stroke-width="0.45"/>
<line x1="388.20000000000005" y1="300.6" x2="388.50000000000006" y2="304.1" stroke="#777" stroke-width="0.6"/>
<text x="381.65000000000003" y="295.50" font-size="7.8" text-anchor="middle" fill="#1a1a1a" stroke="#1a1a1a" stroke-width="0.4" textLength="13.4" lengthAdjust="spacingAndGlyphs">DSP</text>
<path d="M547.9,223.0 L547.9,220.4 Q553.5,218.0 559.1,220.4 L559.1,223.0 Q553.5,225.20000000000002 547.9,223.0Z" fill="#e9e9e9" stroke="#333" stroke-width="0.8"/>
<path d="M548.9,221.6 Q553.5,223.4 558.1,221.6" fill="none" stroke="#666" stroke-width="0.5"/>
<ellipse cx="553.5" cy="218.3" rx="2.8" ry="1.6" fill="#ddd" stroke="#333" stroke-width="0.8"/>
<rect x="543.8" y="225.9" width="19.4" height="20.099999999999994" fill="#fff" stroke="#222" stroke-width="1"/>
<line x1="545.5999999999999" y1="228.4" x2="545.5999999999999" y2="245.0" stroke="#c8c8c8" stroke-width="0.9"/>
<line x1="561.4" y1="228.4" x2="561.4" y2="245.0" stroke="#d8d8d8" stroke-width="0.7"/>
<path d="M543.5999999999999,227.4 L543.5999999999999,224.0 Q544.8,223.0 546.8,222.6 Q553.5,219.8 560.1999999999999,222.6 Q562.1999999999999,223.0 563.4,224.0 L563.4,227.4 Q553.5,224.0 543.5999999999999,227.4Z" fill="#0b0b0b"/>
<path d="M542.9,246.0 L564.0999999999999,246.0 L564.0999999999999,249.20000000000002 Q564.0999999999999,251.4 561.1999999999999,251.4 L545.8,251.4 Q542.9,251.4 542.9,249.20000000000002Z" fill="#0b0b0b"/>
<line x1="544.3" y1="247.2" x2="544.3" y2="250.6" stroke="#5a5a5a" stroke-width="0.45"/>
<line x1="546.6" y1="247.2" x2="546.6" y2="250.6" stroke="#5a5a5a" stroke-width="0.45"/>
<line x1="548.9" y1="247.2" x2="548.9" y2="250.6" stroke="#5a5a5a" stroke-width="0.45"/>
<line x1="551.2" y1="247.2" x2="551.2" y2="250.6" stroke="#5a5a5a" stroke-width="0.45"/>
<line x1="553.5" y1="247.2" x2="553.5" y2="250.6" stroke="#5a5a5a" stroke-width="0.45"/>
<line x1="555.8" y1="247.2" x2="555.8" y2="250.6" stroke="#5a5a5a" stroke-width="0.45"/>
<line x1="558.1" y1="247.2" x2="558.1" y2="250.6" stroke="#5a5a5a" stroke-width="0.45"/>
<line x1="560.4" y1="247.2" x2="560.4" y2="250.6" stroke="#5a5a5a" stroke-width="0.45"/>
<line x1="562.7" y1="247.2" x2="562.7" y2="250.6" stroke="#5a5a5a" stroke-width="0.45"/>
<line x1="559.6999999999999" y1="241.0" x2="559.9999999999999" y2="244.5" stroke="#777" stroke-width="0.6"/>
<text x="553.5" y="239.60" font-size="7.8" text-anchor="middle" fill="#1a1a1a" stroke="#1a1a1a" stroke-width="0.4" textLength="13.4" lengthAdjust="spacingAndGlyphs">SSP</text>
<path d="M528.2,254.0 L528.2,251.4 Q533.8000000000001,249.0 539.4000000000001,251.4 L539.4000000000001,254.0 Q533.8000000000001,256.2 528.2,254.0Z" fill="#e9e9e9" stroke="#333" stroke-width="0.8"/>
<path d="M529.2,252.6 Q533.8000000000001,254.4 538.4000000000001,252.6" fill="none" stroke="#666" stroke-width="0.5"/>
<ellipse cx="533.8000000000001" cy="249.3" rx="2.8" ry="1.6" fill="#ddd" stroke="#333" stroke-width="0.8"/>
<rect x="524.2" y="256.9" width="19.2" height="20.00000000000003" fill="#fff" stroke="#222" stroke-width="1"/>
<line x1="526.0" y1="259.4" x2="526.0" y2="275.90000000000003" stroke="#c8c8c8" stroke-width="0.9"/>
<line x1="541.6000000000001" y1="259.4" x2="541.6000000000001" y2="275.90000000000003" stroke="#d8d8d8" stroke-width="0.7"/>
<path d="M524.0,258.4 L524.0,255.0 Q525.2,254.0 527.2,253.6 Q533.8000000000001,250.8 540.4000000000001,253.6 Q542.4000000000001,254.0 543.6000000000001,255.0 L543.6000000000001,258.4 Q533.8000000000001,255.0 524.0,258.4Z" fill="#0b0b0b"/>
<path d="M523.3000000000001,276.90000000000003 L544.3000000000001,276.90000000000003 L544.3000000000001,280.1 Q544.3000000000001,282.3 541.4000000000001,282.3 L526.2,282.3 Q523.3000000000001,282.3 523.3000000000001,280.1Z" fill="#0b0b0b"/>
<line x1="524.7" y1="278.1" x2="524.7" y2="281.5" stroke="#5a5a5a" stroke-width="0.45"/>
<line x1="527.0" y1="278.1" x2="527.0" y2="281.5" stroke="#5a5a5a" stroke-width="0.45"/>
<line x1="529.2" y1="278.1" x2="529.2" y2="281.5" stroke="#5a5a5a" stroke-width="0.45"/>
<line x1="531.5" y1="278.1" x2="531.5" y2="281.5" stroke="#5a5a5a" stroke-width="0.45"/>
<line x1="533.8" y1="278.1" x2="533.8" y2="281.5" stroke="#5a5a5a" stroke-width="0.45"/>
<line x1="536.1" y1="278.1" x2="536.1" y2="281.5" stroke="#5a5a5a" stroke-width="0.45"/>
<line x1="538.4" y1="278.1" x2="538.4" y2="281.5" stroke="#5a5a5a" stroke-width="0.45"/>
<line x1="540.6" y1="278.1" x2="540.6" y2="281.5" stroke="#5a5a5a" stroke-width="0.45"/>
<line x1="542.9" y1="278.1" x2="542.9" y2="281.5" stroke="#5a5a5a" stroke-width="0.45"/>
<line x1="539.9000000000001" y1="271.90000000000003" x2="540.2" y2="275.40000000000003" stroke="#777" stroke-width="0.6"/>
<text x="533.8000000000001" y="270.70" font-size="7.8" text-anchor="middle" fill="#1a1a1a" stroke="#1a1a1a" stroke-width="0.4" textLength="13.4" lengthAdjust="spacingAndGlyphs">SSP</text>
<path d="M528.5,291.90000000000003 L528.5,289.3 Q534.1,286.90000000000003 539.7,289.3 L539.7,291.90000000000003 Q534.1,294.1 528.5,291.90000000000003Z" fill="#e9e9e9" stroke="#333" stroke-width="0.8"/>
<path d="M529.5,290.5 Q534.1,292.3 538.7,290.5" fill="none" stroke="#666" stroke-width="0.5"/>
<ellipse cx="534.1" cy="287.2" rx="2.8" ry="1.6" fill="#ddd" stroke="#333" stroke-width="0.8"/>
<rect x="524.6" y="294.8" width="19" height="19.600000000000023" fill="#fff" stroke="#222" stroke-width="1"/>
<line x1="526.4" y1="297.3" x2="526.4" y2="313.40000000000003" stroke="#c8c8c8" stroke-width="0.9"/>
<line x1="541.8000000000001" y1="297.3" x2="541.8000000000001" y2="313.40000000000003" stroke="#d8d8d8" stroke-width="0.7"/>
<path d="M524.4,296.3 L524.4,292.90000000000003 Q525.6,291.90000000000003 527.6,291.5 Q534.1,288.7 540.6,291.5 Q542.6,291.90000000000003 543.8000000000001,292.90000000000003 L543.8000000000001,296.3 Q534.1,292.90000000000003 524.4,296.3Z" fill="#0b0b0b"/>
<path d="M523.7,314.40000000000003 L544.5,314.40000000000003 L544.5,317.6 Q544.5,319.8 541.6,319.8 L526.6,319.8 Q523.7,319.8 523.7,317.6Z" fill="#0b0b0b"/>
<line x1="525.1" y1="315.6" x2="525.1" y2="319.0" stroke="#5a5a5a" stroke-width="0.45"/>
<line x1="527.4" y1="315.6" x2="527.4" y2="319.0" stroke="#5a5a5a" stroke-width="0.45"/>
<line x1="529.6" y1="315.6" x2="529.6" y2="319.0" stroke="#5a5a5a" stroke-width="0.45"/>
<line x1="531.9" y1="315.6" x2="531.9" y2="319.0" stroke="#5a5a5a" stroke-width="0.45"/>
<line x1="534.1" y1="315.6" x2="534.1" y2="319.0" stroke="#5a5a5a" stroke-width="0.45"/>
<line x1="536.4" y1="315.6" x2="536.4" y2="319.0" stroke="#5a5a5a" stroke-width="0.45"/>
<line x1="538.6" y1="315.6" x2="538.6" y2="319.0" stroke="#5a5a5a" stroke-width="0.45"/>
<line x1="540.9" y1="315.6" x2="540.9" y2="319.0" stroke="#5a5a5a" stroke-width="0.45"/>
<line x1="543.1" y1="315.6" x2="543.1" y2="319.0" stroke="#5a5a5a" stroke-width="0.45"/>
<line x1="540.1" y1="309.40000000000003" x2="540.4" y2="312.90000000000003" stroke="#777" stroke-width="0.6"/>
<text x="534.1" y="308.30" font-size="7.8" text-anchor="middle" fill="#1a1a1a" stroke="#1a1a1a" stroke-width="0.4" textLength="13.4" lengthAdjust="spacingAndGlyphs">SSP</text>
<rect x="567.8" y="260.8" width="7.9" height="2.8" rx="1.4" fill="#0b0b0b"/>
<rect x="570.4" y="262.5" width="2.8" height="3.5" fill="#0b0b0b"/>
<path d="M565.5,265 L576,265 Q578.9,265 578.9,268 L578.9,302 Q578.9,305 576,305 L565.5,305 Q562.6,305 562.6,302 L562.6,296 Q565.7,295 565.7,292 L565.7,279 Q565.7,276 562.6,275.5 L562.6,268 Q562.6,265 565.5,265Z" fill="#0b0b0b"/>
<rect x="557.3" y="268.1" width="4.6" height="8.2" rx="2" fill="#0b0b0b"/>
<rect x="579.6" y="268.1" width="3.8" height="8.2" rx="1.8" fill="#0b0b0b"/>
<rect x="560" y="270.1" width="4" height="4.2" fill="#0b0b0b"/>
<rect x="557.3" y="293.9" width="4.6" height="8.2" rx="2" fill="#0b0b0b"/>
<rect x="579.6" y="293.9" width="3.8" height="8.2" rx="1.8" fill="#0b0b0b"/>
<rect x="560" y="295.9" width="4" height="4.2" fill="#0b0b0b"/>
<path d="M572.6,281.2 L570.2,285.8 L572,285.8 L570.8,289.8 L573.9,284.6 L572.2,284.6 L573.6,281.2Z" fill="#fff"/>
<text x="554.7" y="285.6" font-size="4.9" text-anchor="middle" fill="#2a2a2a" textLength="20" lengthAdjust="spacingAndGlyphs">HEADER</text>
<text x="554.7" y="290.8" font-size="4.9" text-anchor="middle" fill="#2a2a2a" textLength="20" lengthAdjust="spacingAndGlyphs">BIDDING</text>
<rect x="506.3" y="234.3" width="7.6" height="12.4" rx="3.5" fill="#fff" stroke="#0b0b0b" stroke-width="1"/>
<rect x="506.3" y="265.40000000000003" width="7.6" height="12.4" rx="3.5" fill="#fff" stroke="#0b0b0b" stroke-width="1"/>
<rect x="506.3" y="291.6" width="7.6" height="12.4" rx="3.5" fill="#fff" stroke="#0b0b0b" stroke-width="1"/>
<rect x="434.8" y="234.3" width="7.6" height="12.4" rx="3.5" fill="#fff" stroke="#0b0b0b" stroke-width="1"/>
<rect x="434.8" y="288.3" width="7.6" height="12.4" rx="3.5" fill="#fff" stroke="#0b0b0b" stroke-width="1"/>
<path d="M461,317 A12,7.2 0 0 0 485.3,317 Z" fill="#0b0b0b"/>
<path d="M439.2,226 L439.2,303 C439.2,313 455,317.8 474.2,317.8 C493,317.8 509.3,313 509.3,303 L509.3,226 Z" fill="#fff" stroke="#0b0b0b" stroke-width="1.2"/>
<path d="M439.7,303.5 C444.2,309.5 455,312.8 474.2,312.8 C493,312.8 504.3,309.5 508.8,303.5" fill="none" stroke="#333" stroke-width="0.7"/>
<path d="M444.2,308 Q474.2,313 494.3,310" fill="none" stroke="#666" stroke-width="0.5"/>
<line x1="446.2" y1="240" x2="446.2" y2="258" stroke="#888" stroke-width="0.6" stroke-dasharray="1.5,1"/>
<line x1="502.3" y1="240" x2="502.3" y2="258" stroke="#888" stroke-width="0.6" stroke-dasharray="1.5,1"/>
<path d="M438.7,223 L438.7,229.5 A35.2,9 0 0 0 509.8,229.5 L509.8,223 Z" fill="#0b0b0b"/>
<ellipse cx="474.2" cy="222.6" rx="34.7" ry="8.8" fill="#fff" stroke="#0b0b0b" stroke-width="1.2"/>
<line x1="445.5" y1="188.9" x2="502.5" y2="188.9" stroke="#0b0b0b" stroke-width="2.8" stroke-linecap="round"/>
<line x1="454.7" y1="189" x2="454.7" y2="225" stroke="#0b0b0b" stroke-width="2.6"/>
<line x1="452.2" y1="225.3" x2="457.2" y2="225.3" stroke="#0b0b0b" stroke-width="1.6" stroke-linecap="round"/>
<line x1="473.6" y1="189" x2="473.6" y2="225" stroke="#0b0b0b" stroke-width="2.6"/>
<line x1="471.1" y1="226.8" x2="476.1" y2="226.8" stroke="#0b0b0b" stroke-width="1.6" stroke-linecap="round"/>
<line x1="492" y1="189" x2="492" y2="225" stroke="#0b0b0b" stroke-width="2.6"/>
<line x1="489.5" y1="225.3" x2="494.5" y2="225.3" stroke="#0b0b0b" stroke-width="1.6" stroke-linecap="round"/>
<line x1="473.6" y1="220" x2="473.6" y2="227" stroke="#0b0b0b" stroke-width="2.6"/>
<path d="M443.2,208.2 Q443.2,195.5 454.95,195.5 Q466.7,195.5 466.7,208.2 Q454.95,210.39999999999998 443.2,208.2Z" fill="#fff" stroke="#0b0b0b" stroke-width="0.9"/>
<path d="M480.5,208.2 Q480.5,195.5 492.25,195.5 Q504,195.5 504,208.2 Q492.25,210.39999999999998 480.5,208.2Z" fill="#fff" stroke="#0b0b0b" stroke-width="0.9"/>
<line x1="454.7" y1="189" x2="454.7" y2="199" stroke="#0b0b0b" stroke-width="2.6"/>
<line x1="492" y1="189" x2="492" y2="199" stroke="#0b0b0b" stroke-width="2.6"/>
<path d="M462.7,213.8 Q462.7,201.5 474.75,201.5 Q486.8,201.5 486.8,213.8 Q474.75,216.0 462.7,213.8Z" fill="#fff" stroke="#0b0b0b" stroke-width="0.9"/>
<line x1="473.6" y1="189" x2="473.6" y2="205" stroke="#0b0b0b" stroke-width="2.6"/>
<text x="474.2" y="251.6" font-size="7.6" text-anchor="middle" fill="#0b0b0b" textLength="11" lengthAdjust="spacingAndGlyphs">AD</text>
<text x="474.8" y="259.6" font-size="7.6" text-anchor="middle" fill="#0b0b0b" textLength="40.5" lengthAdjust="spacingAndGlyphs">EXCHANGE</text>
<rect x="449" y="264.4" width="49.8" height="36.3" rx="8" fill="#fff" stroke="#0b0b0b" stroke-width="1"/>
<rect x="452" y="267.3" width="44" height="30.5" rx="6.5" fill="#0b0b0b"/>
<circle cx="458.7" cy="274.9" r="1.8" fill="#2bd13c"/>
<circle cx="466.9" cy="275.3" r="2.8" fill="#e3122f"/>
<circle cx="475.3" cy="274.5" r="1.8" fill="#2bd13c"/>
<circle cx="481.2" cy="272.4" r="1.9" fill="#e3122f"/>
<circle cx="487.3" cy="278.3" r="2.1" fill="#2bd13c"/>
<circle cx="458.3" cy="284.1" r="1.8" fill="#e3122f"/>
<circle cx="466.9" cy="282" r="1.8" fill="#2bd13c"/>
<circle cx="477.8" cy="280.6" r="1.9" fill="#e3122f"/>
<circle cx="475.3" cy="286" r="1.8" fill="#e3122f"/>
<circle cx="485" cy="285.4" r="1.9" fill="#e3122f"/>
<circle cx="460.2" cy="290.8" r="1.9" fill="#2bd13c"/>
<circle cx="468.2" cy="291.5" r="2.9" fill="#e3122f"/>
<circle cx="477.4" cy="291.5" r="1.8" fill="#2bd13c"/>
<circle cx="485.4" cy="291.5" r="2.4" fill="#2bd13c"/>
<circle cx="601.8" cy="151.6" r="14.2" fill="#e5092a" opacity="0.15"/>
<circle cx="601.8" cy="151.6" r="13" fill="#e5092a" opacity="0.4"/>
<circle cx="601.8" cy="151.6" r="11.8" fill="#e5092a"/>
<text x="602" y="153" font-size="5" text-anchor="middle" fill="#fff" textLength="19" lengthAdjust="spacingAndGlyphs">Audience</text>
<text x="602" y="158.3" font-size="5" text-anchor="middle" fill="#fff" textLength="20" lengthAdjust="spacingAndGlyphs">Extension</text>
<path d="M236.0,182 L254.39999999999998,182 L254.39999999999998,192.9 L252.64999999999998,198 L252.64999999999998,202.7 L250.04999999999998,202.7 L250.04999999999998,215.3 L251.79999999999998,215.3 L251.79999999999998,217.6 C265.59999999999997,219.1 268.59999999999997,223 268.59999999999997,230 L268.59999999999997,324.8 Q268.59999999999997,334.8 258.59999999999997,334.8 L231.79999999999998,334.8 Q221.79999999999998,334.8 221.79999999999998,324.8 L221.79999999999998,230 C221.79999999999998,223 224.79999999999998,219.1 238.6,217.6 L238.6,215.3 L240.35,215.3 L240.35,202.7 L237.75,202.7 L237.75,198 L236.0,192.9 Z" fill="#e5092a"/>
<rect x="249.2" y="207.4" width="4.199999999999989" height="3.2" fill="#e5092a"/>
<circle cx="257.4" cy="209" r="6.8" fill="#fff" stroke="#e5092a" stroke-width="1.8"/>
<circle cx="257.4" cy="209" r="2.4" fill="none" stroke="#e5092a" stroke-width="1.3"/>
<path d="M251.39999999999998,210 L255.09999999999997,209 M259.4,207.5 L261.9,204.5 M258.4,211 L260.4,214.5" stroke="#e5092a" stroke-width="1.1"/>
<text x="245.2" y="236.5" font-size="6.4" text-anchor="middle" fill="#fff" textLength="39.5" lengthAdjust="spacingAndGlyphs">ADVERTISER</text>
<text x="245.2" y="243.5" font-size="6.4" text-anchor="middle" fill="#fff" textLength="25" lengthAdjust="spacingAndGlyphs">AGENCY</text>
<text x="245.2" y="260.5" font-size="6.2" text-anchor="middle" fill="#fff" textLength="30" lengthAdjust="spacingAndGlyphs">First Party</text>
<text x="245.2" y="266.5" font-size="6.2" text-anchor="middle" fill="#fff" textLength="14" lengthAdjust="spacingAndGlyphs">Data</text>
<line x1="235.2" y1="251" x2="255.2" y2="251" stroke="#f3a0ab" stroke-width="0.8"/>
<line x1="235.2" y1="270.5" x2="255.2" y2="270.5" stroke="#f3a0ab" stroke-width="0.8"/>
<rect x="235.89999999999998" y="274.2" width="18.6" height="14" rx="4" fill="none" stroke="#fff" stroke-width="0.9"/>
<path d="M238.7,275.5 L238.7,287 M240.2,276.5 L240.2,286" stroke="#fff" stroke-width="0.7"/>
<text x="247.0" y="283.3" font-size="4.6" text-anchor="middle" fill="#fff" textLength="10" lengthAdjust="spacingAndGlyphs">CRM</text>
<circle cx="245.2" cy="297.2" r="7" fill="#fff"/>
<rect x="238.0" y="294.8" width="14.4" height="4.8" fill="#e5092a"/>
<text x="245.2" y="298.8" font-size="4.2" text-anchor="middle" fill="#fff" textLength="10.5" lengthAdjust="spacingAndGlyphs">WWW</text>
<circle cx="245.2" cy="314.2" r="7.3" fill="none" stroke="#fff" stroke-width="0.9"/>
<path d="M241.2,313 L246.7,309.5 L246.7,317 L241.2,315.5Z M242.0,315.5 L242.7,318 L244.2,318 L243.7,316" fill="#fff"/>
<path d="M248.2,311.5 L249.7,310 M248.5,313.3 L250.2,313.3 M248.2,315 L249.7,316.5" stroke="#fff" stroke-width="0.7"/>
<text x="245.2" y="327.4" font-size="4.2" text-anchor="middle" fill="#fff" textLength="14" lengthAdjust="spacingAndGlyphs">SOCIAL</text>
<path d="M713.95,182 L730.05,182 L730.05,192.3 L727.75,197 L727.75,200.9 L726,200.9 L726,212.4 L727.4,212.4 L727.4,215.3 C739.7,216.8 742.7,217 742.7,224 L742.7,324.8 Q742.7,334.8 732.7,334.8 L711.3,334.8 Q701.3,334.8 701.3,324.8 L701.3,224 C701.3,217 704.3,216.8 716.6,215.3 L716.6,212.4 L718,212.4 L718,200.9 L716.25,200.9 L716.25,197 L713.95,192.3 Z" fill="#e5092a"/>
<rect x="726" y="204.5" width="3.3999999999999773" height="3.2" fill="#e5092a"/>
<circle cx="733.4" cy="206.1" r="6.8" fill="#fff" stroke="#e5092a" stroke-width="1.8"/>
<circle cx="733.4" cy="206.1" r="2.4" fill="none" stroke="#e5092a" stroke-width="1.3"/>
<path d="M727.4,207.1 L731.1,206.1 M735.4,204.6 L737.9,201.6 M734.4,208.1 L736.4,211.6" stroke="#e5092a" stroke-width="1.1"/>
<text x="722" y="235.4" font-size="6.8" text-anchor="middle" fill="#fff" textLength="38" lengthAdjust="spacingAndGlyphs">PUBLISHER</text>
<text x="722" y="260.5" font-size="6.2" text-anchor="middle" fill="#fff" textLength="30" lengthAdjust="spacingAndGlyphs">First Party</text>
<text x="722" y="266.5" font-size="6.2" text-anchor="middle" fill="#fff" textLength="14" lengthAdjust="spacingAndGlyphs">Data</text>
<line x1="712" y1="251" x2="732" y2="251" stroke="#f3a0ab" stroke-width="0.8"/>
<line x1="712" y1="270.5" x2="732" y2="270.5" stroke="#f3a0ab" stroke-width="0.8"/>
<rect x="712.7" y="274.2" width="18.6" height="14" rx="4" fill="none" stroke="#fff" stroke-width="0.9"/>
<path d="M715.5,275.5 L715.5,287 M717,276.5 L717,286" stroke="#fff" stroke-width="0.7"/>
<text x="723.8" y="283.3" font-size="4.6" text-anchor="middle" fill="#fff" textLength="10" lengthAdjust="spacingAndGlyphs">CRM</text>
<circle cx="722" cy="297.2" r="7" fill="#fff"/>
<rect x="714.8" y="294.8" width="14.4" height="4.8" fill="#e5092a"/>
<text x="722" y="298.8" font-size="4.2" text-anchor="middle" fill="#fff" textLength="10.5" lengthAdjust="spacingAndGlyphs">WWW</text>
<circle cx="722" cy="314.2" r="7.3" fill="none" stroke="#fff" stroke-width="0.9"/>
<path d="M718,313 L723.5,309.5 L723.5,317 L718,315.5Z M718.8,315.5 L719.5,318 L721,318 L720.5,316" fill="#fff"/>
<path d="M725,311.5 L726.5,310 M725.3,313.3 L727,313.3 M725,315 L726.5,316.5" stroke="#fff" stroke-width="0.7"/>
<text x="722" y="327.4" font-size="4.2" text-anchor="middle" fill="#fff" textLength="14" lengthAdjust="spacingAndGlyphs">SOCIAL</text>
<circle cx="237" cy="157.7" r="8.3" fill="#fff" stroke="#1a1a1a" stroke-width="1.5"/>
<path d="M239.32,154.86 A2.30,4.30 0 1 0 239.32,160.54" fill="none" stroke="#0b0b0b" stroke-width="2.10" stroke-linecap="round"/>
<path d="M234.10,156.80 L238.20,156.80 M234.10,158.60 L238.20,158.60" stroke="#0b0b0b" stroke-width="0.80"/>
<circle cx="255.8" cy="157.7" r="8.3" fill="#fff" stroke="#1a1a1a" stroke-width="1.5"/>
<path d="M258.13,154.86 A2.30,4.30 0 1 0 258.13,160.54" fill="none" stroke="#0b0b0b" stroke-width="2.10" stroke-linecap="round"/>
<path d="M252.90,156.80 L257.00,156.80 M252.90,158.60 L257.00,158.60" stroke="#0b0b0b" stroke-width="0.80"/>
<circle cx="246.2" cy="172.2" r="6.2" fill="#fff" stroke="#1a1a1a" stroke-width="1.5"/>
<path d="M248.01,169.99 A1.79,3.35 0 1 0 248.01,174.41" fill="none" stroke="#0b0b0b" stroke-width="1.64" stroke-linecap="round"/>
<path d="M243.94,171.50 L247.14,171.50 M243.94,172.90 L247.14,172.90" stroke="#0b0b0b" stroke-width="0.62"/>
<circle cx="700.1" cy="146.1" r="1.7" fill="#0b0b0b"/>
<path d="M697.3000000000001,148.9 Q697.3000000000001,147.9 698.3000000000001,147.9 L701.9,147.9 Q702.9,147.9 702.9,148.9 L702.9,154.9 L702.0,154.9 L702.0,160.0 L698.2,160.0 L698.2,154.9 L697.3000000000001,154.9Z" fill="#0b0b0b"/>
<circle cx="707.1" cy="146.1" r="1.7" fill="#0b0b0b"/>
<path d="M704.3000000000001,148.9 Q704.3000000000001,147.9 705.3000000000001,147.9 L708.9,147.9 Q709.9,147.9 709.9,148.9 L709.9,154.9 L709.0,154.9 L709.0,160.0 L705.2,160.0 L705.2,154.9 L704.3000000000001,154.9Z" fill="#0b0b0b"/>
<circle cx="714.3" cy="146.1" r="1.7" fill="#0b0b0b"/>
<path d="M711.5,148.9 Q711.5,147.9 712.5,147.9 L716.0999999999999,147.9 Q717.0999999999999,147.9 717.0999999999999,148.9 L717.0999999999999,154.9 L716.1999999999999,154.9 L716.1999999999999,160.0 L712.4,160.0 L712.4,154.9 L711.5,154.9Z" fill="#0b0b0b"/>
<circle cx="721.3" cy="146.1" r="1.7" fill="#0b0b0b"/>
<path d="M718.5,148.9 Q718.5,147.9 719.5,147.9 L723.0999999999999,147.9 Q724.0999999999999,147.9 724.0999999999999,148.9 L724.0999999999999,154.9 L723.1999999999999,154.9 L723.1999999999999,160.0 L719.4,160.0 L719.4,154.9 L718.5,154.9Z" fill="#0b0b0b"/>
<circle cx="728.7" cy="146.1" r="1.7" fill="#0b0b0b"/>
<path d="M725.9000000000001,148.9 Q725.9000000000001,147.9 726.9000000000001,147.9 L730.5,147.9 Q731.5,147.9 731.5,148.9 L731.5,154.9 L730.6,154.9 L730.6,160.0 L726.8000000000001,160.0 L726.8000000000001,154.9 L725.9000000000001,154.9Z" fill="#0b0b0b"/>
<circle cx="733.2" cy="146.1" r="1.7" fill="#0b0b0b"/>
<path d="M730.4000000000001,148.9 Q730.4000000000001,147.9 731.4000000000001,147.9 L735.0,147.9 Q736.0,147.9 736.0,148.9 L736.0,154.9 L735.1,154.9 L735.1,160.0 L731.3000000000001,160.0 L731.3000000000001,154.9 L730.4000000000001,154.9Z" fill="#0b0b0b"/>
<circle cx="741" cy="146.1" r="1.7" fill="#0b0b0b"/>
<path d="M738.2,148.9 Q738.2,147.9 739.2,147.9 L742.8,147.9 Q743.8,147.9 743.8,148.9 L743.8,154.9 L742.9,154.9 L742.9,160.0 L739.1,160.0 L739.1,154.9 L738.2,154.9Z" fill="#0b0b0b"/>
<circle cx="714.3" cy="164.6" r="1.7" fill="#0b0b0b"/>
<path d="M711.5,167.4 Q711.5,166.4 712.5,166.4 L716.0999999999999,166.4 Q717.0999999999999,166.4 717.0999999999999,167.4 L717.0999999999999,173.4 L716.1999999999999,173.4 L716.1999999999999,178.5 L712.4,178.5 L712.4,173.4 L711.5,173.4Z" fill="#0b0b0b"/>
<circle cx="721.5" cy="164.6" r="1.7" fill="#0b0b0b"/>
<path d="M718.7,167.4 Q718.7,166.4 719.7,166.4 L723.3,166.4 Q724.3,166.4 724.3,167.4 L724.3,173.4 L723.4,173.4 L723.4,178.5 L719.6,178.5 L719.6,173.4 L718.7,173.4Z" fill="#0b0b0b"/>
<circle cx="729" cy="164.6" r="1.7" fill="#0b0b0b"/>
<path d="M726.2,167.4 Q726.2,166.4 727.2,166.4 L730.8,166.4 Q731.8,166.4 731.8,167.4 L731.8,173.4 L730.9,173.4 L730.9,178.5 L727.1,178.5 L727.1,173.4 L726.2,173.4Z" fill="#0b0b0b"/>
</g>
</svg>
<div id="cap">¿Qué es la publicidad programática?</div>
<svg id="logo" width="980" height="523" viewBox="0 0 980 523">
<defs>
<linearGradient id="tl" x1="0" y1="0" x2="1" y2="0"><stop offset="0" stop-color="#4cc9c0"/><stop offset="1" stop-color="#5fe3c2"/></linearGradient>
<linearGradient id="bl" x1="0" y1="0" x2="1" y2="0"><stop offset="0" stop-color="#0c5a9e"/><stop offset="1" stop-color="#2f90b4"/></linearGradient>
</defs>
<line x1="967" y1="452" x2="1010" y2="495" stroke="url(#tl)" stroke-width="28" stroke-linecap="round"/>
<line x1="966" y1="507.5" x2="1010" y2="551.5" stroke="url(#tl)" stroke-width="28" stroke-linecap="round"/>
<line x1="924" y1="522" x2="960" y2="558" stroke="url(#bl)" stroke-width="28" stroke-linecap="round"/>
</svg>
</body></html>
